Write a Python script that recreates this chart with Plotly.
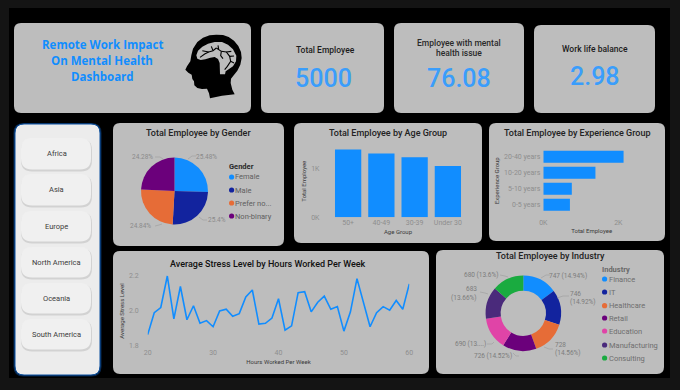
import plotly.graph_objects as go

W, H = 680, 390
regions = ["Africa", "Asia", "Europe", "North America", "Oceania", "South America"]
gender_names = ["Female", "Male", "Prefer no...", "Non-binary"]
gender_values = [1274, 1270, 1242, 1214]
gender_labels = ["25.48%", "25.4%", "24.84%", "24.28%"]
age_groups = ["50+", "40-49", "30-39", "Under 30"]
age_values = [1395, 1315, 1235, 1055]
exp_groups = ["0-5 years", "5-10 years", "10-20 years", "20-40 years"]
exp_values = [710, 760, 1390, 2140]
hours = list(range(20, 61))
stress = [1.865, 1.99, 2.02, 2.2, 1.955, 2.14, 1.95, 2.03, 1.93, 1.945, 1.91, 2.0, 2.01, 1.97,
          1.985, 2.08, 2.12, 1.925, 1.93, 1.96, 2.07, 1.89, 1.915, 2.105, 2.11, 1.995, 2.05,
          2.085, 2.01, 2.025, 1.885, 1.995, 2.185, 2.055, 1.91, 1.99, 2.025, 2.005, 2.06, 2.01, 2.155]
industry_names = ["Finance", "IT", "Healthcare", "Retail", "Education", "Manufacturing", "Consulting"]
industry_values = [747, 746, 728, 726, 690, 683, 680]
gender_colors = ["#118DFF", "#12239E", "#E66C37", "#6B007B"]
industry_colors = ["#118DFF", "#12239E", "#E66C37", "#6B007B", "#E044A7", "#4A2A7B", "#1AAB40"]

FONT = "Roboto"
BLUE = "#118DFF"
PANEL = "#bdbdbd"
GRAY = "#8e8e8e"
DARK = "#2b2b2b"


def X(x): return x / W
def Y(y): return 1 - y / H


def rr(x0, y0, x1, y1, r):
    return (f"M{X(x0+r)},{Y(y0)} L{X(x1-r)},{Y(y0)} Q{X(x1)},{Y(y0)} {X(x1)},{Y(y0+r)} "
            f"L{X(x1)},{Y(y1-r)} Q{X(x1)},{Y(y1)} {X(x1-r)},{Y(y1)} L{X(x0+r)},{Y(y1)} "
            f"Q{X(x0)},{Y(y1)} {X(x0)},{Y(y1-r)} L{X(x0)},{Y(y0+r)} Q{X(x0)},{Y(y0)} {X(x0+r)},{Y(y0)} Z")


shapes, notes = [], []


def box(x0, y0, x1, y1, r=7, fill=PANEL, line=None, lw=0):
    shapes.append(dict(type="path", path=rr(x0, y0, x1, y1, r), xref="paper", yref="paper",
                       fillcolor=fill, line=dict(color=line or fill, width=lw), layer="below"))


def text(x, y, s, size=8, color=DARK, anchor="center", weight=400, family=FONT):
    notes.append(dict(x=X(x), y=Y(y), xref="paper", yref="paper", text=s,
                      showarrow=False, xanchor=anchor, yanchor="middle", align=anchor,
                      font=dict(size=size, color=color, family=family, weight=weight), borderpad=0, borderwidth=0))


def poly(points, fill, ox=178, oy=28, k=3):
    d = "M" + " L".join(f"{X(ox+a/k)},{Y(oy+b/k)}" for a, b in points) + " Z"
    shapes.append(dict(type="path", path=d, xref="paper", yref="paper", fillcolor=fill,
                       line=dict(color=fill, width=0), layer="above"))


def stroke(points, color="#000000", w=1.1, ox=178, oy=28, k=3, layer="above"):
    d = "M" + " L".join(f"{X(ox+a/k)},{Y(oy+b/k)}" for a, b in points)
    shapes.append(dict(type="path", path=d, xref="paper", yref="paper",
                       line=dict(color=color, width=w), layer=layer))


def leader(pts):
    stroke(pts, color="#a0a0a0", w=0.7, ox=0, oy=0, k=1)


def dom(a, b, size):
    return [a / size, b / size]


def ydom(top, bottom):
    return [1 - bottom / H, 1 - top / H]


# backdrop
box(9, 8, 670, 378, r=0, fill="#000000")
# KPI panels
box(14, 23, 251, 113)
box(261, 23, 384, 113)
box(394, 23, 524, 113)
box(534, 25, 655, 113)
# slicer
box(13.5, 123, 101.5, 376.5, r=10, fill="#06264d")
box(15, 124, 100, 375, r=9, fill="#ececec", line="#0a4f9e", lw=1)
for (t, b), name in zip([(138, 170), (174, 206), (211, 242), (247, 278), (283, 314), (319, 350)], regions):
    box(21, t + 1, 92, b + 1.5, r=11, fill="#d2d2d2")
    box(21, t, 91, b - 0.5, r=11, fill="#f0f0f0")
    text(57, (t + b) / 2 - 0.5, name, size=7.5, color="#3c3c3c")
# chart panels
box(113, 123, 284, 246)
box(294, 123, 482, 243)
box(489, 123, 665, 241)
box(113, 251, 429, 374)
box(436, 250, 664, 374)

# header text
for i, s in enumerate(["Remote Work Impact", "On Mental Health", "Dashboard"]):
    text(102, 44 + i * 16.5, s, size=11.5, color=BLUE, weight=700, family="Open Sans")
text(325.5, 50.5, "Total Employee", size=8.5, color="#1c1c1c", weight=500)
text(323, 79, "5000", size=25, color="#3a9dfb", weight=500)
text(459, 43, "Employee with mental", size=8.5, color="#2a2a2a", weight=500)
text(459, 53, "health issue", size=8.5, color="#2a2a2a", weight=500)
text(459, 79, "76.08", size=25, color="#3a9dfb", weight=500)
text(595, 48.5, "Work life balance", size=8.5, color="#1c1c1c", weight=500)
text(595, 77, "2.98", size=25, color="#3a9dfb", weight=500)

# chart titles
text(198.5, 133, "Total Employee by Gender", size=9, color="#222222", weight=500)
text(388, 133, "Total Employee by Age Group", size=9, color="#222222", weight=500)
text(577, 133, "Total Employee by Experience Group", size=9, color="#222222", weight=500)
text(268, 264, "Average Stress Level by Hours Worked Per Week", size=9, color="#111111", weight=500)
text(550, 255.5, "Total Employee by Industry", size=9, color="#222222", weight=500)

# brain icon
poly([(115, 20), (135, 21), (152, 27), (168, 38), (181, 54), (189, 72), (191, 90), (187, 110), (178, 128),
      (166, 143), (159, 152), (158, 165), (163, 185), (170, 199), (132, 203), (96, 211), (93, 196), (87, 182),
      (72, 183), (58, 180), (49, 172), (48, 160), (43, 153), (41, 140), (31, 134), (22, 125), (27, 115), (37, 100),
      (40, 82), (45, 62), (58, 42), (75, 29), (95, 22)], "#000000")
poly([(55, 82), (60, 68), (73, 56), (90, 47), (110, 42), (132, 42), (150, 50), (165, 64), (175, 83), (174, 100),
      (165, 115), (152, 124), (143, 130), (141, 139), (126, 139), (125, 105), (120, 93), (110, 87), (97, 89),
      (82, 94), (68, 96), (58, 92)], PANEL)
stroke([(66, 88), (80, 78), (92, 72), (105, 68), (115, 60)])
stroke([(73, 68), (92, 72)])
stroke([(100, 55), (105, 68)])
stroke([(115, 60), (130, 70), (145, 72), (155, 85), (158, 100), (148, 115), (140, 125)])
stroke([(120, 52), (122, 64)])
stroke([(130, 70), (128, 83), (135, 92)])
stroke([(145, 72), (160, 70)])
stroke([(155, 85), (168, 84)])
stroke([(158, 100), (168, 105)])

fig = go.Figure()

# gender pie
cx, cy, r = 174.5, 191, 33.5
fig.add_trace(go.Pie(labels=gender_names, values=gender_values, sort=False, direction="clockwise", rotation=0,
                     marker=dict(colors=gender_colors, line=dict(width=0)), textinfo="none", showlegend=False,
                     domain=dict(x=dom(cx - r, cx + r, W), y=ydom(cy - r, cy + r))))
for (x, y), s in zip([(207, 157), (217, 220), (140, 226), (142, 157)], gender_labels):
    text(x, y, s, size=6.5, color="#8a8a8a")
leader([(188, 159), (192, 156), (196, 156)])
leader([(199, 217), (203, 220), (207, 220)])
leader([(155, 226), (159, 225), (162, 224)])
leader([(155, 157), (160, 157), (163, 159)])
text(228.5, 166, "Gender", size=7.5, color="#2a2a2a", anchor="left", weight=700)
for n, c, y in zip(gender_names, gender_colors, [177, 190, 203, 216]):
    shapes.append(dict(type="circle", xref="paper", yref="paper", x0=X(229), x1=X(234.2), y0=Y(y + 2.6), y1=Y(y - 2.6),
                       fillcolor=c, line=dict(width=0), layer="above"))
    text(235.3, y, n, size=7.5, color="#606060", anchor="left")

# age bars
fig.add_trace(go.Bar(x=age_groups, y=age_values, marker=dict(color=BLUE, line=dict(width=0)), xaxis="x", yaxis="y", width=0.79, showlegend=False))
# experience bars
fig.add_trace(go.Bar(y=exp_groups, x=exp_values, orientation="h", marker=dict(color=BLUE, line=dict(width=0)), xaxis="x2", yaxis="y2",
                     width=0.75, showlegend=False))
# line
fig.add_trace(go.Scatter(x=hours, y=stress, mode="lines", line=dict(color=BLUE, width=1.6), xaxis="x3", yaxis="y3", showlegend=False))

# industry donut
cx, cy, r = 523.3, 313.3, 37.7
fig.add_trace(go.Pie(labels=industry_names, values=industry_values, sort=False, direction="clockwise", rotation=0, hole=0.6,
                     marker=dict(colors=industry_colors, line=dict(width=0)), textinfo="none", showlegend=False,
                     domain=dict(x=dom(cx - r, cx + r, W), y=ydom(cy - r, cy + r))))
for x, y, s, a in [(567.7, 276, f"{industry_values[0]} (14.94%)", "center"), (570, 293.7, f"{industry_values[1]}", "left"),
                   (570, 301.7, "(14.92%)", "left"), (555, 345, f"{industry_values[2]}", "left"),
                   (555, 353, "(14.56%)", "left"), (492.7, 356, f"{industry_values[3]} (14.52%)", "center"),
                   (470.7, 344, f"{industry_values[4]} (13....)", "center"), (477.3, 289, f"{industry_values[5]}", "right"),
                   (477.3, 297.7, "(13.66%)", "right"), (481, 275, f"{industry_values[6]} (13.6%)", "center")]:
    text(x, y, s, size=6.5, color="#7c7c7c", anchor=a)
leader([(541, 278), (546, 275), (550, 275)])
leader([(557, 298), (563, 296), (569, 296)])
leader([(544, 347), (549, 349), (553, 349)])
leader([(513, 353), (516, 356), (519, 356)])
leader([(487, 344), (492, 344), (494, 342)])
leader([(480, 292), (485, 293), (488, 294)])
leader([(500, 275), (505, 276), (508, 277)])
text(602, 269, "Industry", size=7.5, color="#6a6a6a", anchor="left", weight=700)
for n, c, y in zip(industry_names, industry_colors, [279, 292, 305.7, 318, 331, 345, 358]):
    shapes.append(dict(type="circle", xref="paper", yref="paper", x0=X(602), x1=X(607.2), y0=Y(y + 2.6), y1=Y(y - 2.6),
                       fillcolor=c, line=dict(width=0), layer="above"))
    text(608.5, y, n, size=7.5, color="#6e6e6e", anchor="left")

tick = dict(size=7, color=GRAY, family=FONT)
ttl = dict(size=6, color="#3a3a3a", family=FONT)
base = dict(showgrid=False, zeroline=False, showline=False, ticks="", tickfont=tick, automargin=False)

fig.update_layout(
    width=W, height=H, autosize=False, margin=dict(l=0, r=0, t=0, b=0, pad=0, autoexpand=False),
    paper_bgcolor="#141414", plot_bgcolor="rgba(0,0,0,0)", shapes=shapes, annotations=notes, showlegend=False,
    bargap=0.2,
    xaxis=dict(base, domain=dom(331.5, 464.5, W), anchor="y", title=dict(text="Age Group", font=ttl, standoff=3)),
    yaxis=dict(base, domain=ydom(145, 217.3), anchor="x", range=[0, 1488], tickvals=[0, 1000], ticktext=["0K", "1K"],
               ticklabelstandoff=11, title=dict(text="Total Employee", font=ttl, standoff=4)),
    xaxis2=dict(base, domain=dom(543.3, 640, W), anchor="y2", range=[0, 2578], tickvals=[0, 2000], ticktext=["0K", "2K"],
                ticklabelstandoff=4, title=dict(text="Total Employee", font=ttl, standoff=3)),
    yaxis2=dict(base, domain=ydom(148.7, 212.7), anchor="x2", ticklabelstandoff=2,
                title=dict(text="Experience Group", font=ttl, standoff=3)),
    xaxis3=dict(base, domain=dom(147.7, 409.3, W), anchor="y3", range=[20, 60], tickvals=[20, 30, 40, 50, 60],
                ticklabelstandoff=-4, title=dict(text="Hours Worked Per Week", font=ttl, standoff=3)),
    yaxis3=dict(base, domain=ydom(271, 351), anchor="x3", range=[1.7714, 2.2286], tickvals=[1.8, 2.0, 2.2],
                ticktext=["1.8", "2.0", "2.2"], ticklabelstandoff=8,
                title=dict(text="Average Stress Level", font=ttl, standoff=3)),
)

fig.write_html("out.html", config=dict(displayModeBar=False),
               post_script="document.body.style.margin='0';document.body.style.background='#141414';document.body.style.overflow='hidden';")
